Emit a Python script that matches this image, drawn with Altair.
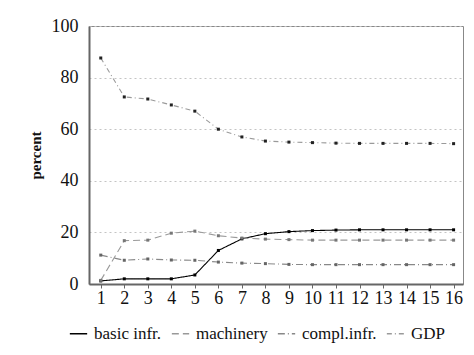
import altair as alt
import pandas as pd

periods = list(range(1, 17))
basic_infr = [1.2, 2.0, 2.0, 2.0, 3.5, 13.0, 17.5, 19.5, 20.3, 20.7, 20.9, 21.0, 21.0, 21.0, 21.0, 21.0]
machinery = [1.4, 16.8, 17.0, 19.7, 20.5, 18.7, 17.8, 17.4, 17.2, 17.0, 17.0, 17.0, 17.0, 17.0, 17.0, 17.0]
compl_infr = [11.2, 9.2, 9.7, 9.3, 9.2, 8.5, 8.1, 7.9, 7.6, 7.5, 7.5, 7.5, 7.5, 7.5, 7.5, 7.5]
gdp = [87.6, 72.5, 71.7, 69.4, 67.0, 60.0, 57.0, 55.4, 55.0, 54.8, 54.6, 54.5, 54.5, 54.5, 54.5, 54.4]

names = ["basic infr.", "machinery", "compl.infr.", "GDP"]
series = [basic_infr, machinery, compl_infr, gdp]

rows = []
for n, vals in zip(names, series):
    for p, v in zip(periods, vals):
        rows.append({"period": p, "value": v, "series": n})
df = pd.DataFrame(rows)

FONT = "Liberation Serif"
colors = ["#000000", "#999999", "#888888", "#9a9a9a"]
dashes = [[1, 0], [7, 4], [7, 3, 1, 3], [5, 3, 1, 3]]
mcolors = ["#000000", "#777777", "#666666", "#222222"]

x = alt.X("period:Q", scale=alt.Scale(domain=[0.5, 16.4], nice=False, zero=False),
          axis=alt.Axis(values=periods, title=None, grid=False, labelFontSize=18,
                        labelColor="#111", tickColor="#666", tickSize=4,
                        domainColor="#666", domainWidth=2, labelPadding=1, labelFlush=False))
y = alt.Y("value:Q", scale=alt.Scale(domain=[0, 100], nice=False),
          axis=alt.Axis(values=[0, 20, 40, 60, 80, 100], title="percent",
                        titleFontSize=15, titleFontWeight="bold", titleColor="#111",
                        labelFontSize=18, labelColor="#111",
                        grid=True, gridDash=[2, 3], gridColor="#c4c4c4", gridWidth=1,
                        tickSize=0, labelPadding=11, domainColor="#666", domainWidth=2,
                        titlePadding=8))

lines = alt.Chart(df).mark_line(strokeWidth=1.1).encode(
    x=x, y=y,
    color=alt.Color("series:N", sort=names, scale=alt.Scale(domain=names, range=colors),
                    legend=alt.Legend(title=None, orient="none", direction="horizontal",
                                      legendX=-20, legendY=298,
                                      labelFontSize=17, labelColor="#111",
                                      symbolType="stroke", symbolSize=300,
                                      symbolStrokeWidth=1.5, columnPadding=6,
                                      labelOffset=6)),
    strokeDash=alt.StrokeDash("series:N", sort=names,
                              scale=alt.Scale(domain=names, range=dashes), legend=None),
)

points = alt.Chart(df).mark_square(size=9, opacity=1).encode(
    x=x, y=y,
    fill=alt.Fill("series:N", scale=alt.Scale(domain=names, range=mcolors), legend=None),
)

chart = (lines + points).properties(
    width=374, height=258,
    autosize=alt.AutoSizeParams(type="none"),
    padding={"left": 81, "top": 18, "right": 3, "bottom": 60},
).configure(
    background="white", font=FONT
).configure_axis(
    labelFont=FONT, titleFont=FONT
).configure_legend(
    labelFont=FONT
).configure_view(stroke="#888", strokeWidth=1)

chart.save("out.html", embed_options={"renderer": "svg", "actions": False})
